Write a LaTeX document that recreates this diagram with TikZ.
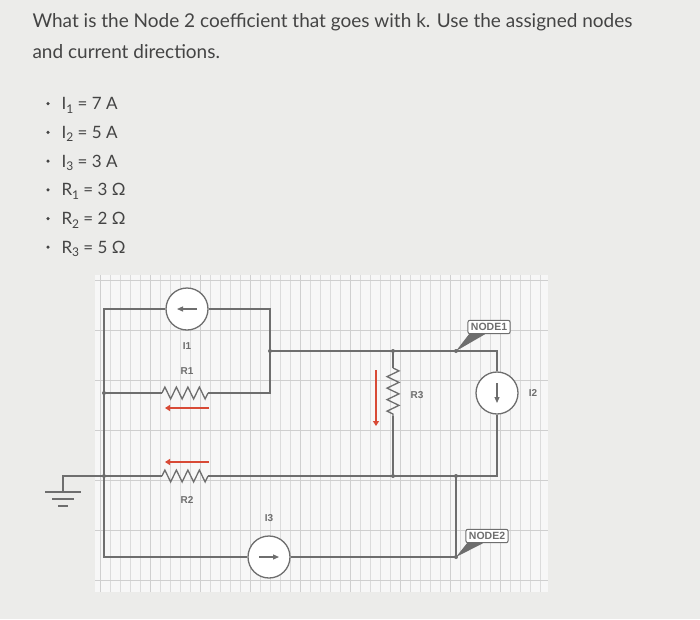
\documentclass[tikz,border=0pt]{standalone}
\usepackage{fontspec}
\setmainfont{Lato}
\setsansfont{Liberation Sans}
\usetikzlibrary{arrows.meta,decorations.pathmorphing}
\definecolor{bg}{HTML}{ECECEA}
\definecolor{wire}{HTML}{6E6E6E}
\definecolor{txt}{HTML}{444444}
\definecolor{redc}{HTML}{D84A36}
\newcommand{\sbs}[1]{\raisebox{-3.5pt}{\fontsize{12}{12}\selectfont #1}}
\begin{document}
\begin{tikzpicture}[x=1pt,y=-1pt,
  wr/.style={draw=wire,line width=1.3pt},
  src/.style={circle,draw=wire,line width=1.3pt,minimum size=42pt,inner sep=0pt,fill=white},
  lbl/.style={font=\sffamily\bfseries\fontsize{10}{12}\selectfont,text=wire},
  tag/.style={draw=wire,line width=1pt,rounded corners=2pt,fill=white,font=\sffamily\bfseries\fontsize{10.5}{12}\selectfont,text=wire,inner sep=3pt},
  dot/.style={circle,fill=wire,inner sep=0pt,minimum size=4pt},
  res/.style={wr,decorate,decoration={zigzag,segment length=11.5pt,amplitude=6pt}},
  ra/.style={draw=redc,line width=2.2pt,-{Triangle[length=5pt,width=6pt]}},
  sa/.style={draw=wire,line width=1.2pt,-{Triangle[length=6pt,width=5pt]}},
  item/.style={anchor=base west,font=\fontsize{17}{20}\selectfont,text=txt}]
\useasboundingbox (0,0) rectangle (700,619);
\fill[bg] (0,0) rectangle (700,619);
% grid
\fill[white!60!bg] (95,275) rectangle (548,592);
\draw[white!72!gray,line width=0.4pt] (95,275) grid[step=10] (548,592);
\foreach \x in {100,150,...,540} \draw[white!62!gray,line width=0.6pt] (\x,275) -- (\x,592);
\foreach \y in {280,330,...,590} \draw[white!62!gray,line width=0.6pt] (95,\y) -- (548,\y);
% text
\node[anchor=base west,font=\fontsize{19}{22}\selectfont,text=txt] (q1) at (29,27) {What is the Node 2 coefficient that goes with k. Use the assigned nodes};
\node[anchor=base west,font=\fontsize{19}{22}\selectfont,text=txt] (q2) at (29,58) {and current directions.};
\foreach \t [count=\i] in {{I\sbs{1} = 7 A},{I\sbs{2} = 5 A},{I\sbs{3} = 3 A},{R\sbs{1} = 3 Ω},{R\sbs{2} = 2 Ω},{R\sbs{3} = 5 Ω}}{
  \node[circle,fill=txt,inner sep=0pt,minimum size=3.5pt] (b\i) at (48,{75+28.7*\i}) {};
  \node[item] (t\i) at (58,{81+28.7*\i}) {\t};
}
% coordinates
\coordinate (tl) at (104,309); \coordinate (tr) at (270,309);
\coordinate (n1) at (270,351); \coordinate (n3) at (393,351);
\coordinate (nn1) at (456,351); \coordinate (rr) at (497,351);
\coordinate (l1) at (104,393); \coordinate (l2) at (104,476);
\coordinate (m2) at (393,476); \coordinate (nn2) at (456,476);
\coordinate (rb) at (497,476); \coordinate (bl) at (104,557);
\coordinate (br) at (456,557); \coordinate (g) at (63,476);
\node[src] (I1) at (187,309) {};
\node[src] (I2) at (497,393) {};
\node[src] (I3) at (269,557) {};
% wires
\draw[wr] (I1.west) -- (tl) -- (bl) -- (I3.west);
\draw[wr] (I1.east) -- (tr) -- (270,393) -- (208,393);
\draw[res] (208,393) -- (162,393);
\draw[wr] (162,393) -- (l1);
\draw[wr] (n1) -- (rr) -- (I2.north);
\draw[wr] (I2.south) -- (rb) -- (208,476);
\draw[res] (208,476) -- (162,476);
\draw[wr] (162,476) -- (g) -- (63,492);
\draw[wr] (n3) -- (393,368);
\draw[res] (393,368) -- (393,416);
\draw[wr] (393,416) -- (m2);
\draw[wr] (nn2) -- (br) -- (I3.east);
% ground
\draw[wr] (45,492) -- (81,492); \draw[wr] (52,499) -- (74,499); \draw[wr] (58,506) -- (68,506);
% source arrows
\draw[sa] (197,309) -- (177,309);
\draw[sa] (497,383) -- (497,403);
\draw[sa] (259,557) -- (279,557);
% dots
\foreach \p in {n1,n3,nn1,l1,l2,m2,nn2,br} \node[dot] at (\p) {};
% red arrows
\draw[ra] (209,408) -- (165,408);
\draw[ra] (209,462) -- (165,462);
\draw[ra] (376,370) -- (376,426);
% labels
\node[lbl] (LI1) at (187,346) {I1};
\node[lbl] (LR1) at (187,371) {R1};
\node[lbl] (LR2) at (187,500) {R2};
\node[lbl] (LR3) at (417,395) {R3};
\node[lbl] (LI2) at (533,393) {I2};
\node[lbl] (LI3) at (269,518) {I3};
\node[tag] (N1) at (489,327) {NODE1};
\node[tag] (N2) at (487,536) {NODE2};
\fill[wire] ([xshift=-20pt]N1.south) -- (nn1) -- ([xshift=-4pt]N1.south) -- cycle;
\fill[wire] ([xshift=-20pt]N2.south) -- (br) -- ([xshift=-4pt]N2.south) -- cycle;
\end{tikzpicture}
\end{document}
